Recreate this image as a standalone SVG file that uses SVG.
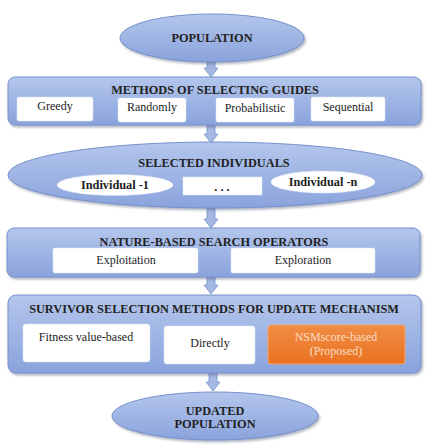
<svg xmlns="http://www.w3.org/2000/svg" width="432" height="445" viewBox="0 0 432 445">
<defs>
<linearGradient id="blue" x1="0" y1="0" x2="0" y2="1">
<stop offset="0" stop-color="#b3c6ec"/>
<stop offset="1" stop-color="#8aa3dc"/>
</linearGradient>
<linearGradient id="orange" x1="0" y1="0" x2="0" y2="1">
<stop offset="0" stop-color="#f08c45"/>
<stop offset="1" stop-color="#ea7220"/>
</linearGradient>
<filter id="sh" x="-5%" y="-10%" width="110%" height="130%">
<feDropShadow dx="1.5" dy="2" stdDeviation="1.2" flood-color="#55607a" flood-opacity="0.45"/>
</filter>
</defs>
<style>
.shape{fill:url(#blue);stroke:#7690cc;stroke-width:1;filter:url(#sh)}
.sub{fill:#ffffff;stroke:#dfe6f5;stroke-width:0.5}
.title{font-weight:bold;font-size:12.3px;fill:#222;text-anchor:middle}
.label{font-size:12px;fill:#222;text-anchor:middle}
.arrow{fill:#a3b8e3;stroke:#7690cc;stroke-width:0.8}
</style>
<rect width="432" height="445" fill="#ffffff"/>
<g id="connectors">
<path class="arrow" d="M207,62 H215 V68 H218 L211,77 L204,68 H207 Z"/>
<path class="arrow" d="M207,125 H215 V134 H218 L211,143 L204,134 H207 Z"/>
<path class="arrow" d="M207,208 H215 V219 H218 L211,228 L204,219 H207 Z"/>
<path class="arrow" d="M207,277 H215 V285 H218 L211,294 L204,285 H207 Z"/>
<path class="arrow" d="M209,373 H217 V382 H220 L213,391 L206,382 H209 Z"/>
</g>
<g id="population">
<ellipse class="shape" cx="212" cy="38" rx="92" ry="24"/>
<text class="title" x="212" y="42" font-family="Liberation Serif, serif">POPULATION</text>
</g>
<g id="methods">
<rect class="shape" x="8" y="77" width="413" height="48" rx="7"/>
<text class="title" x="215" y="94" font-family="Liberation Serif, serif">METHODS OF SELECTING GUIDES</text>
<rect class="sub" x="17" y="97" width="76" height="24" rx="2"/>
<text class="label" x="55" y="110" font-family="Liberation Serif, serif">Greedy</text>
<rect class="sub" x="118" y="98" width="68" height="24" rx="2"/>
<text class="label" x="152" y="111" font-family="Liberation Serif, serif">Randomly</text>
<rect class="sub" x="216" y="98" width="78" height="24" rx="2"/>
<text class="label" x="255" y="112" font-family="Liberation Serif, serif">Probabilistic</text>
<rect class="sub" x="311" y="97" width="74" height="24" rx="2"/>
<text class="label" x="348" y="111" font-family="Liberation Serif, serif">Sequential</text>
</g>
<g id="selected">
<ellipse class="shape" cx="215" cy="175" rx="207" ry="33"/>
<text class="title" x="214" y="167" font-family="Liberation Serif, serif">SELECTED INDIVIDUALS</text>
<ellipse class="sub" cx="115" cy="185" rx="58" ry="10.5"/>
<text class="title" x="115" y="189" font-family="Liberation Serif, serif">Individual -1</text>
<rect class="sub" x="183" y="177" width="79" height="18"/>
<text class="title" x="222" y="191" font-family="Liberation Serif, serif">. . .</text>
<ellipse class="sub" cx="323" cy="182" rx="52" ry="11"/>
<text class="title" x="323" y="186" font-family="Liberation Serif, serif">Individual -n</text>
</g>
<g id="operators">
<rect class="shape" x="7" y="228" width="413" height="49" rx="7"/>
<text class="title" x="214" y="246" font-family="Liberation Serif, serif">NATURE-BASED SEARCH OPERATORS</text>
<rect class="sub" x="53" y="248" width="145" height="25" rx="2"/>
<text class="label" x="126" y="264" font-family="Liberation Serif, serif">Exploitation</text>
<rect class="sub" x="231" y="248" width="144" height="25" rx="2"/>
<text class="label" x="303" y="264" font-family="Liberation Serif, serif">Exploration</text>
</g>
<g id="survivor">
<rect class="shape" x="8" y="295" width="413" height="78" rx="8"/>
<text class="title" x="214" y="313" font-family="Liberation Serif, serif">SURVIVOR SELECTION METHODS FOR UPDATE MECHANISM</text>
<rect class="sub" x="23" y="324" width="127" height="38" rx="3"/>
<text class="label" x="86" y="341" font-family="Liberation Serif, serif">Fitness value-based</text>
<rect class="sub" x="164" y="326" width="91" height="38" rx="3"/>
<text class="label" x="210" y="347" font-family="Liberation Serif, serif">Directly</text>
<rect x="268" y="325" width="137" height="39" rx="3" fill="url(#orange)" stroke="#f3a66f" stroke-width="1"/>
<text class="label" x="336" y="341" font-family="Liberation Serif, serif" style="fill:#f9dcc4">NSMscore-based</text>
<text class="label" x="336" y="355" font-family="Liberation Serif, serif" style="fill:#f9dcc4">(Proposed)</text>
</g>
<g id="updated">
<ellipse class="shape" cx="215" cy="416" rx="103" ry="24"/>
<text class="title" x="215" y="415" font-family="Liberation Serif, serif">UPDATED</text>
<text class="title" x="215" y="428" font-family="Liberation Serif, serif">POPULATION</text>
</g>
</svg>
